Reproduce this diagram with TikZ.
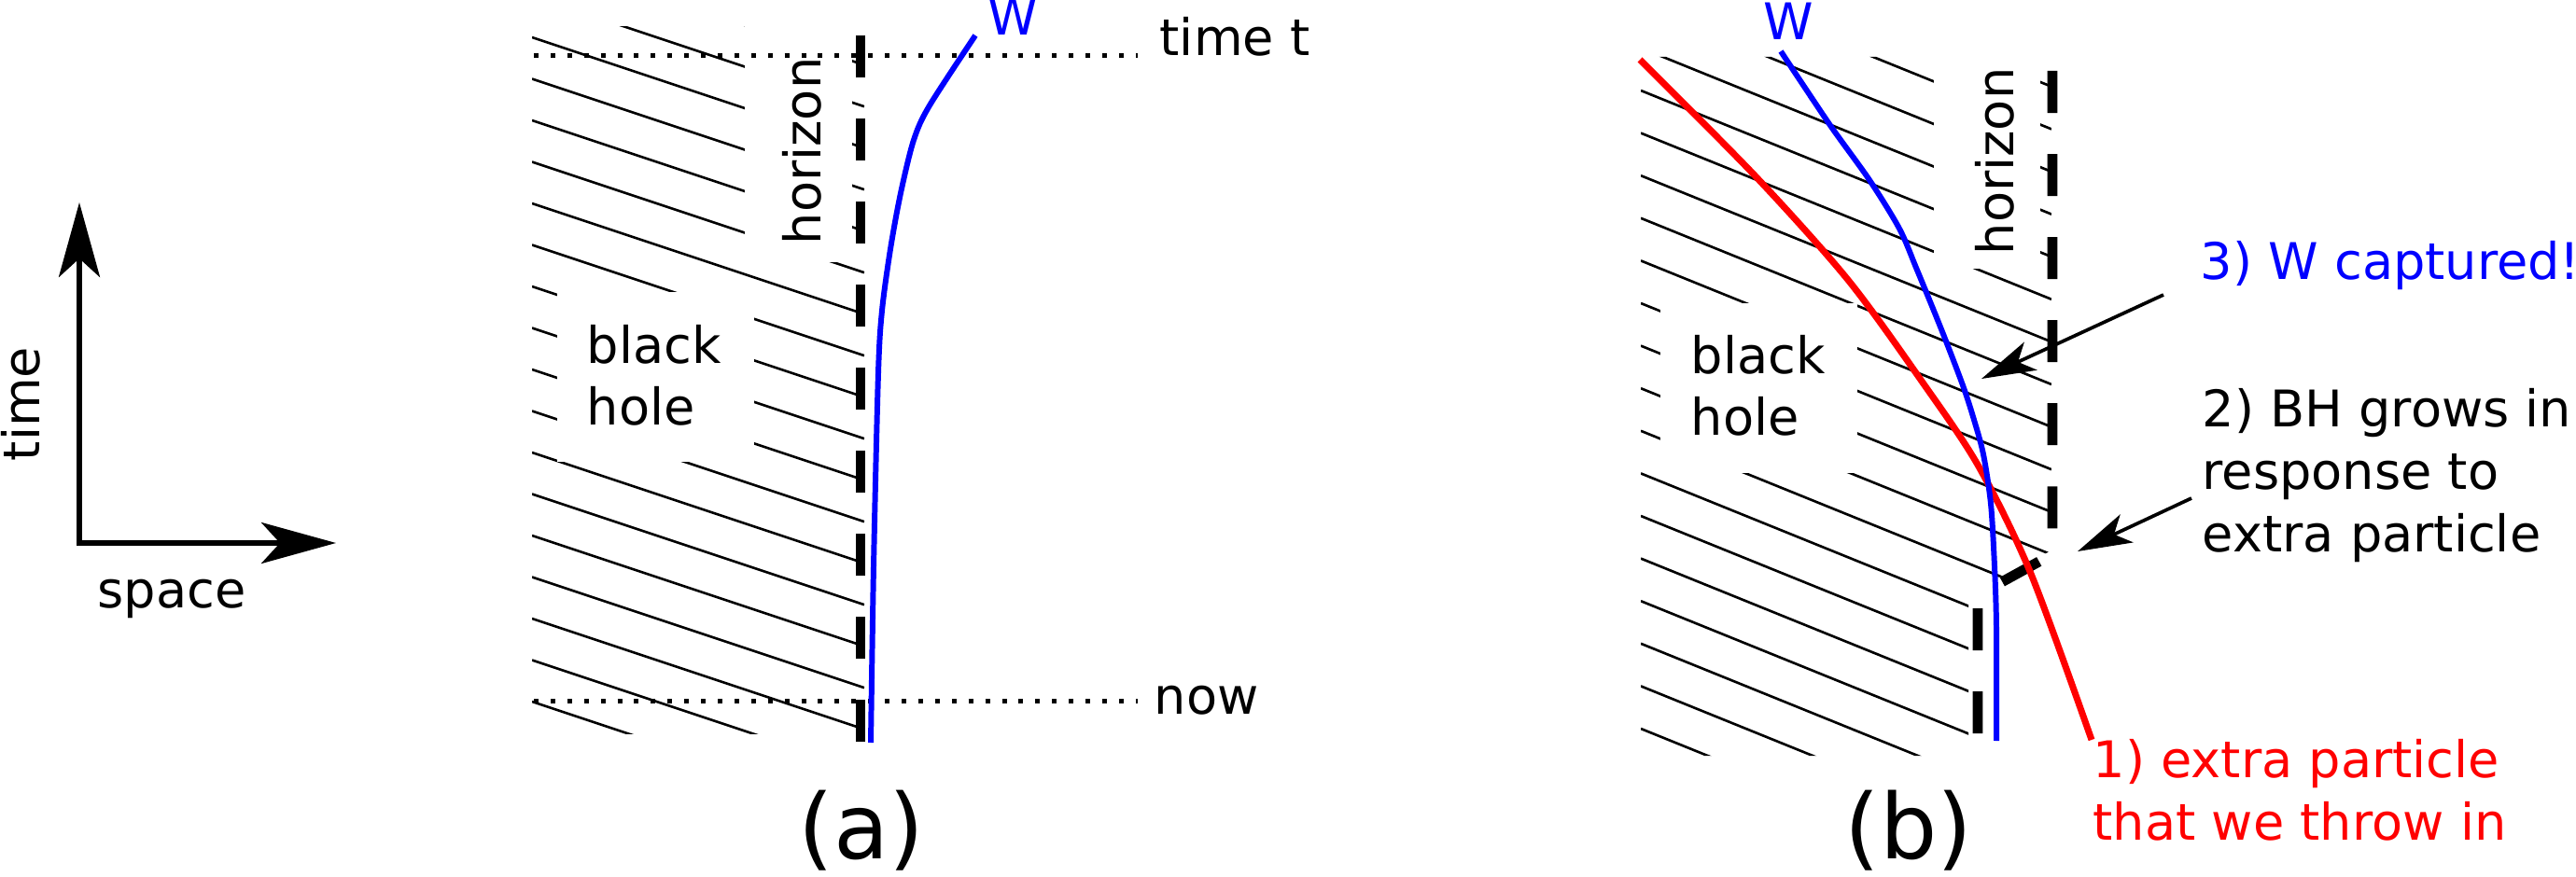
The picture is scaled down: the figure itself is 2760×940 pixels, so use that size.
\documentclass[tikz,border=0pt]{standalone}
\usepackage{fontspec}
\setmainfont{DejaVu Sans}
\usetikzlibrary{arrows.meta}

\begin{document}
\begin{tikzpicture}[x=0.01cm, y=-0.01cm,
    every node/.style={inner sep=0pt, font=\fontsize{15.4pt}{19pt}\selectfont},
    hatch/.style={line width=0.75pt},
    horizon/.style={line width=3.1pt, dash pattern=on 0.45cm off 0.44cm},
    level/.style={line width=0.05cm, dash pattern=on 0.05cm off 0.129cm},
    axis/.style={line width=1.5pt, line join=miter,
        {Stealth[length=0.8cm, width=0.44cm, inset=0.2cm]}-{Stealth[length=0.8cm, width=0.44cm, inset=0.2cm]}},
    pointer/.style={line width=1.05pt, -{Stealth[length=0.58cm, width=0.33cm, inset=0.15cm]}},
    wline/.style={blue, line width=1.7pt},
    particle/.style={red, line width=2pt},
    panel/.style={font=\fontsize{27.5pt}{33pt}\selectfont}]
  \useasboundingbox (0,0) rectangle (2760,940);

  % axes
  \coordinate (origin) at (85,582);
  \coordinate (tend) at (85,217);
  \coordinate (send) at (360,582);
  \draw[axis] (tend) -- (origin) -- (send);
  \node[rotate=90, anchor=base] (tlabel) at (42,433) {time};
  \node[anchor=base west] (slabel) at (104,651) {space};

  % (a) black hole
  \begin{scope}
    \clip (570,29) rectangle (926,786);
    \foreach \k in {-3,...,16}
      \draw[hatch] (570,{40+44.5*\k}) -- ++(356,{356/3});
  \end{scope}
  \fill[white] (597,313) rectangle (808,495);
  \fill[white] (798,0) rectangle (913,281);
  % base of a two-line node is its last line
  \node[anchor=base west, align=left] (bha) at (628,456) {black\\hole};
  \node[rotate=90, anchor=base] (hza) at (879,162) {horizon};

  \coordinate (ta1) at (572,60);
  \coordinate (ta2) at (1219,60);
  \coordinate (na1) at (572,751);
  \coordinate (na2) at (1219,751);
  \draw[level] (ta1) -- (ta2);
  \draw[level] (na1) -- (na2);
  \node[anchor=base west] (tt) at (1242,60) {time t};
  \node[anchor=base west] (now) at (1236,765) {now};

  \coordinate (hatop) at (922,38);
  \coordinate (habot) at (922,796);
  \draw[horizon] (hatop) -- (habot);
  \draw[wline] plot[smooth] coordinates {(933,796) (936,607) (941,400) (945,333)
      (954,267) (965,207) (979,150) (996,113) (1045,38)};
  \node[blue, anchor=base west] (wa) at (1058,38) {W};
  \node[panel, anchor=base] (pa) at (923,920) {(a)};

  % (b) black hole after the throw
  \begin{scope}
    \clip (1758,61) -- (2198,61) -- (2198,590) -- (2109,636) -- (2109,810)
      -- (1758,810) -- cycle;
    \foreach \k in {-5,...,16}
      \draw[hatch] (1758,{97+45.6*\k}) -- ++(440,178.2);
  \end{scope}
  \fill[white] (1779,325) rectangle (1990,507);
  \fill[white] (2072,0) rectangle (2186,288);
  \node[anchor=base west, align=left] (bhb) at (1811,467) {black\\hole};
  \node[rotate=90, anchor=base] (hzb) at (2157,173) {horizon};

  \coordinate (hbtop) at (2199,76);
  \coordinate (hbk1) at (2199,594);
  \coordinate (hbk2) at (2119,638);
  \coordinate (hbbot) at (2119,786);
  \draw[horizon] (hbtop) -- (hbk1) -- (hbk2) -- (hbbot);

  \draw[particle] plot[smooth] coordinates {(1757,64) (1880,188) (1980,300)
      (2060,410) (2120,500) (2176,615) (2241,793)};
  \draw[wline] plot[smooth] coordinates {(2139,794) (2139,673) (2137,607)
      (2133,540) (2125,487) (2115,450) (2103,413) (2080,353) (2053,287)
      (2035,245) (2003,193) (1960,133) (1908,55)};
  \node[blue, anchor=base west] (wb) at (1889,43) {W};
  \node[panel, anchor=base] (pb) at (2045,920) {(b)};

  % labels
  \node[blue, anchor=base west] (cap) at (2357,300) {3) W captured!};
  \node[anchor=base west, align=left] (grow) at (2359,591)
    {2) BH grows in\\response to\\extra particle};
  \node[red, anchor=base west, align=left] (xtra) at (2242,900)
    {1) extra particle\\that we throw in};
  \coordinate (capfoot) at (2318,316);
  \coordinate (captip) at (2123,406);
  \coordinate (growfoot) at (2348,534);
  \coordinate (growtip) at (2226,591);
  \draw[pointer] (capfoot) -- (captip);
  \draw[pointer] (growfoot) -- (growtip);
\end{tikzpicture}
\end{document}
